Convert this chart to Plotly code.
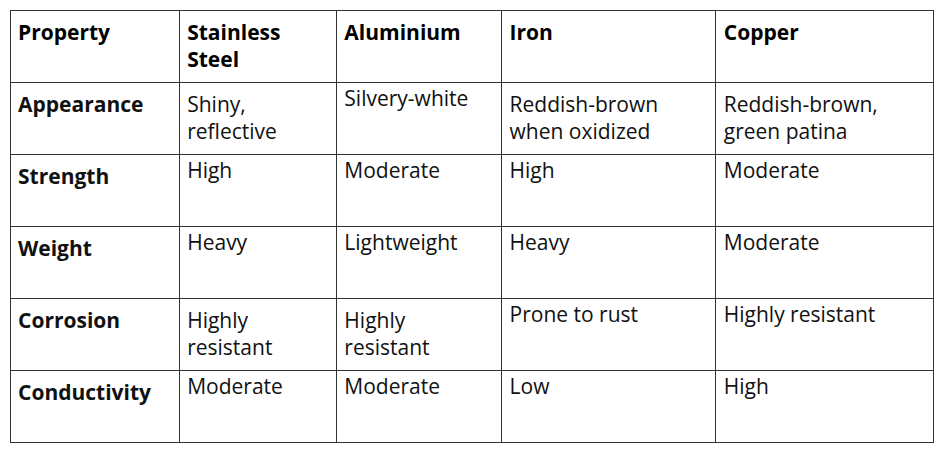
import plotly.graph_objects as go

headers = ["Property", "Stainless<br>Steel", "Aluminium", "Iron", "Copper"]
properties = ["Appearance", "Strength", "Weight", "Corrosion", "Conductivity"]
stainless = ["Shiny,<br>reflective", "High", "Heavy", "Highly<br>resistant", "Moderate"]
aluminium = ["Silvery-white", "Moderate", "Lightweight", "Highly<br>resistant", "Moderate"]
iron = ["Reddish-brown<br>when oxidized", "High", "Heavy", "Prone to rust", "Low"]
copper = ["Reddish-brown,<br>green patina", "Moderate", "Moderate", "Highly resistant", "High"]

col_widths = [169, 157, 165, 214, 217]

fig = go.Figure(go.Table(
    columnwidth=col_widths,
    header=dict(
        values=["<b>" + h + "</b>" for h in headers],
        align="left",
        fill_color="white",
        line=dict(color="#333333", width=1),
        font=dict(family="Open Sans", size=21, color="black"),
        height=72,
    ),
    cells=dict(
        values=[["<b>" + p + "</b>" for p in properties], stainless, aluminium, iron, copper],
        align="left",
        fill_color="white",
        line=dict(color="#333333", width=1),
        font=dict(family="Open Sans", size=21, color="#111111"),
        height=72,
    ),
))

fig.update_layout(
    width=945, height=452,
    margin=dict(l=2, r=20, t=2, b=0),
    paper_bgcolor="white",
)

fig.write_html("out.html")
